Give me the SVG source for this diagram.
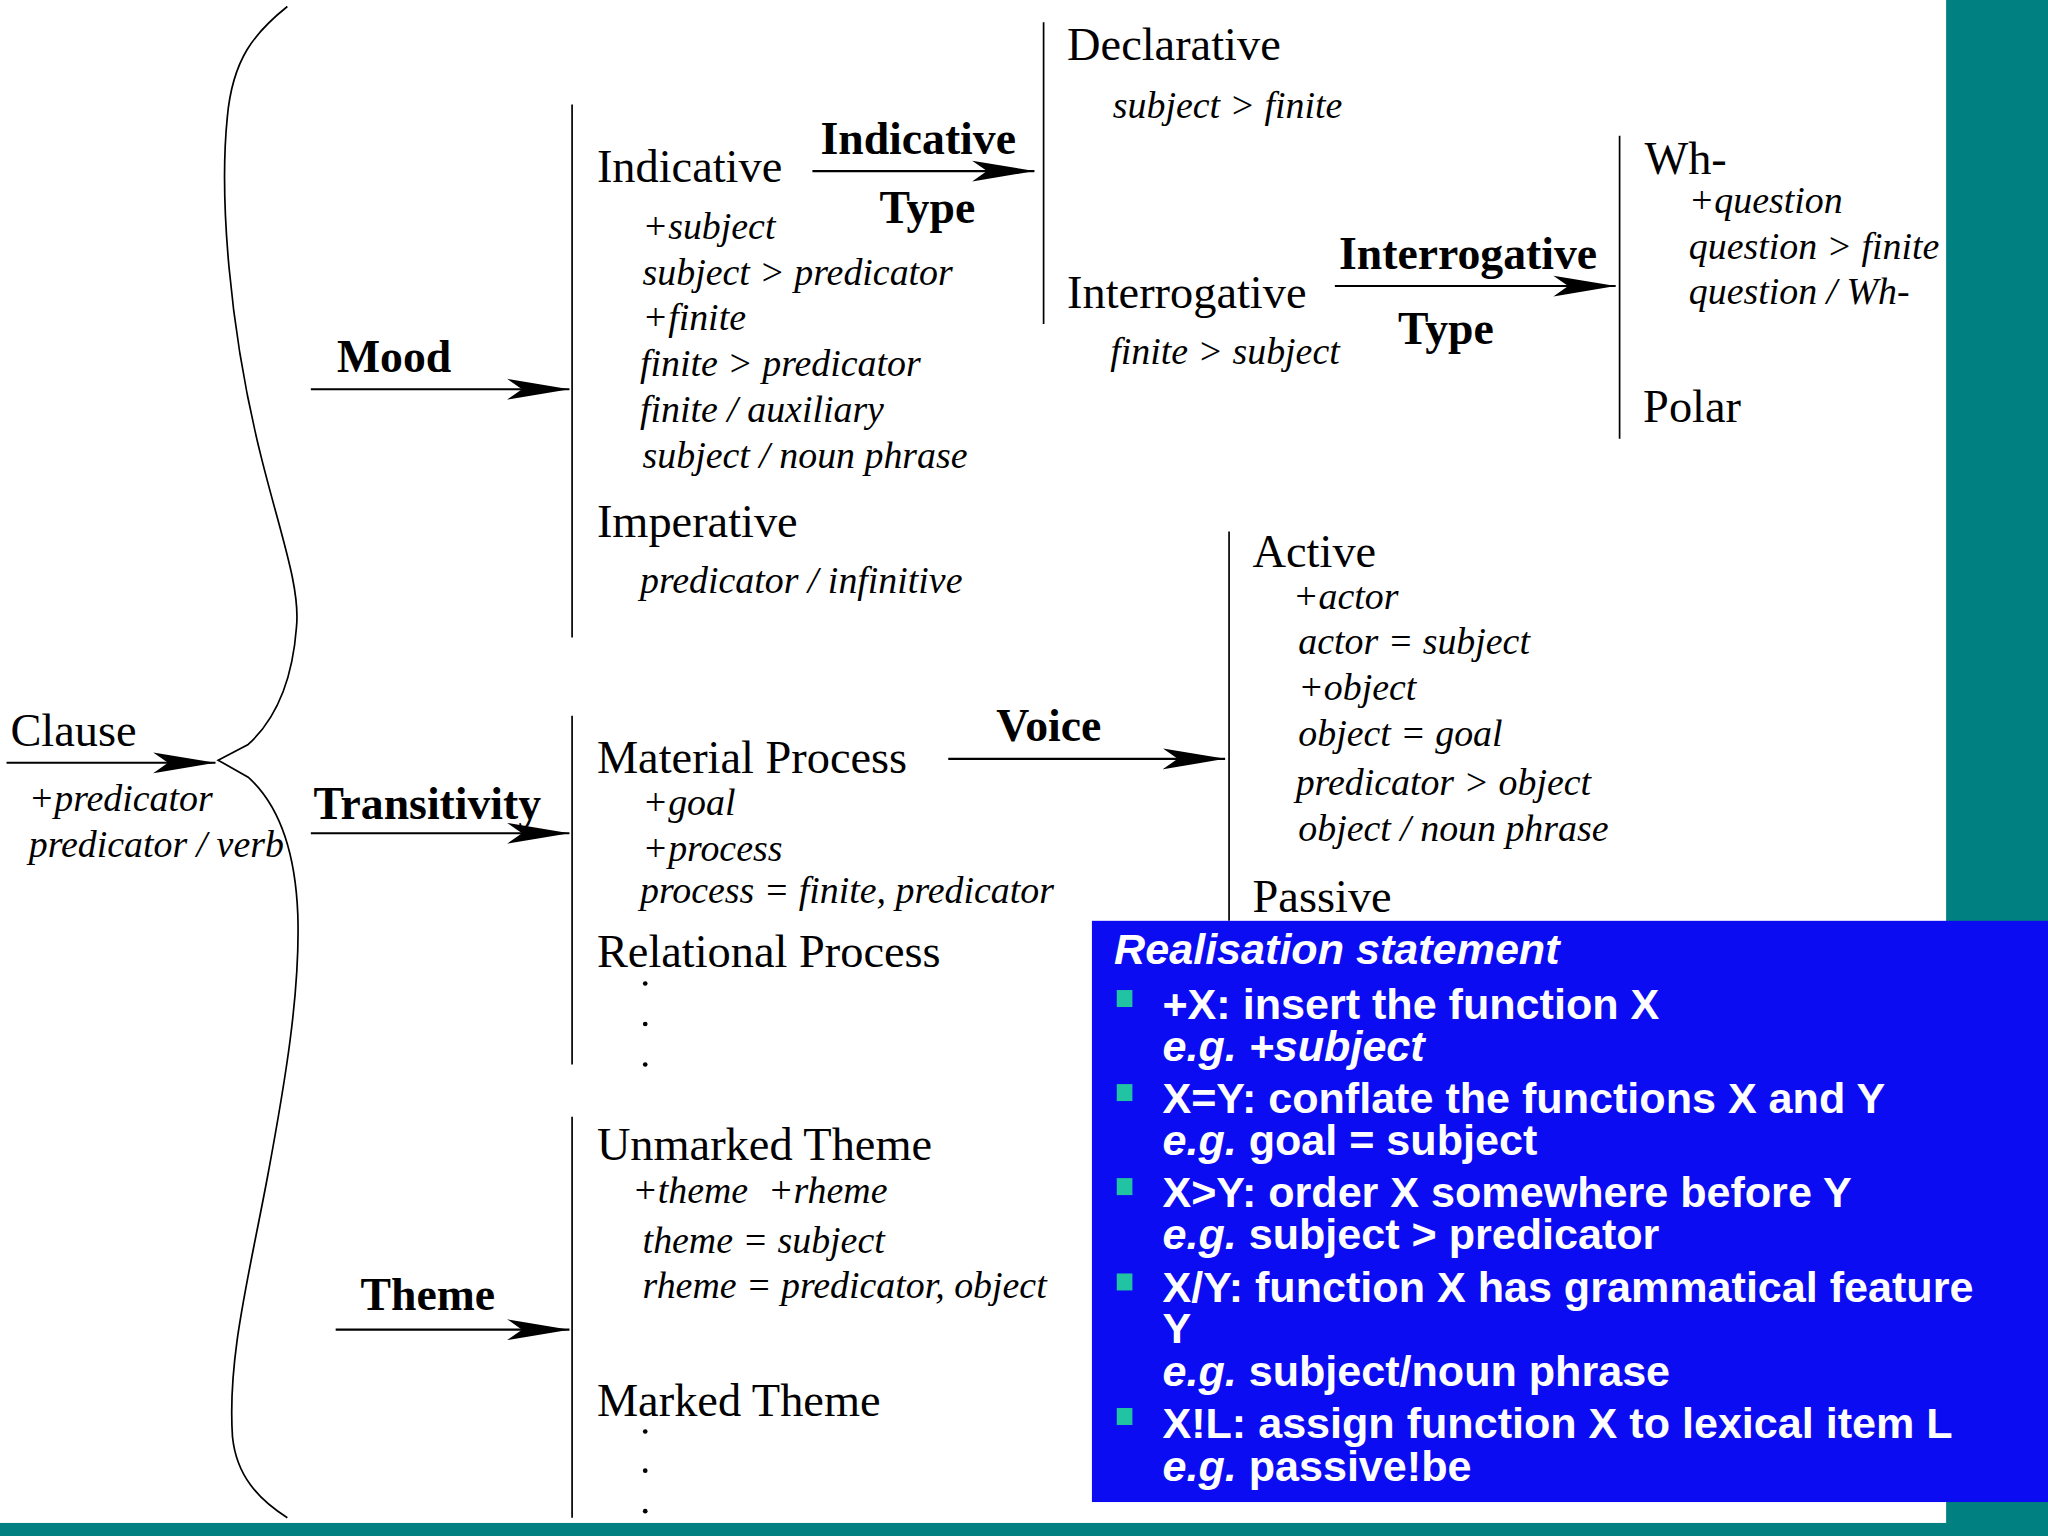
<svg xmlns="http://www.w3.org/2000/svg" width="2048" height="1536" viewBox="0 0 2048 1536">
<defs>
<marker id="ah" markerUnits="userSpaceOnUse" markerWidth="50" markerHeight="20" refX="42" refY="7" orient="auto" viewBox="0 0 44 14">
<path d="M0,0 L42,7 L0,14 L10,7 z" fill="#000"/>
</marker>
<style>
.r{font-family:"Liberation Serif","Times New Roman",serif;font-size:35.5px;fill:#000}
.i{font-family:"Liberation Serif","Times New Roman",serif;font-size:29px;font-style:italic;fill:#000}
.b{font-family:"Liberation Serif","Times New Roman",serif;font-size:35px;font-weight:bold;fill:#000}
.ln{stroke:#000;stroke-width:1.3;fill:none}
.ar{stroke:#000;stroke-width:1.6;fill:none;marker-end:url(#ah)}
.w{font-family:"Liberation Sans",Arial,sans-serif;font-size:33px;font-weight:bold;fill:#fff}
.bl{fill:#22C3A3}
</style>
</defs>
<rect x="0" y="0" width="2048" height="1536" fill="#fff"/>
<g transform="scale(1.306122)">
<rect x="1490" y="0" width="78" height="1176" fill="#008080"/>
<rect x="0" y="1166" width="1568" height="10" fill="#008080"/>

<g id="connectors">
<path class="ln" d="M220,5 C195,25 178,45 174,90 C168,150 175,250 200,350 C215,410 230,450 227,480 C224,520 212,550 190,570 L167,582 L190,595 C212,615 226,650 228,700 C230,760 218,830 205,900 C190,980 174,1040 178,1100 C181,1130 198,1148 220,1162"/>
<line class="ar" x1="5" y1="584" x2="165" y2="584"/>
<line class="ar" x1="238" y1="298" x2="436" y2="298"/>
<line class="ar" x1="238" y1="638" x2="436" y2="638"/>
<line class="ar" x1="257" y1="1018" x2="436" y2="1018"/>
<line class="ar" x1="622" y1="131" x2="792" y2="131"/>
<line class="ar" x1="1022" y1="219" x2="1237" y2="219"/>
<line class="ar" x1="726" y1="581" x2="938" y2="581"/>
<line class="ln" x1="438" y1="80" x2="438" y2="488"/>
<line class="ln" x1="438" y1="548" x2="438" y2="815"/>
<line class="ln" x1="438" y1="855" x2="438" y2="1162"/>
<line class="ln" x1="799" y1="17" x2="799" y2="248"/>
<line class="ln" x1="1240" y1="104" x2="1240" y2="336"/>
<line class="ln" x1="941" y1="407" x2="941" y2="705"/>
<text class="b" x="258" y="285">Mood</text>
<text class="b" x="240" y="627">Transitivity</text>
<text class="b" x="276" y="1003">Theme</text>
<text class="b" x="703" y="118" text-anchor="middle">Indicative</text>
<text class="b" x="710" y="171" text-anchor="middle">Type</text>
<text class="b" x="1124" y="206" text-anchor="middle">Interrogative</text>
<text class="b" x="1107" y="263" text-anchor="middle">Type</text>
<text class="b" x="803" y="567" text-anchor="middle">Voice</text>
</g>

<g id="clause">
<text class="r" x="8" y="571">Clause</text>
<text class="i" x="22" y="621">+predicator</text>
<text class="i" x="22" y="656">predicator / verb</text>
</g>
<g id="indicative">
<text class="r" x="457" y="139">Indicative</text>
<text class="i" x="492" y="183">+subject</text>
<text class="i" x="492" y="218">subject &gt; predicator</text>
<text class="i" x="492" y="253">+finite</text>
<text class="i" x="490" y="288">finite &gt; predicator</text>
<text class="i" x="490" y="323">finite / auxiliary</text>
<text class="i" x="492" y="358">subject / noun phrase</text>
</g>
<g id="imperative">
<text class="r" x="457" y="411">Imperative</text>
<text class="i" x="490" y="454">predicator / infinitive</text>
</g>
<g id="declarative">
<text class="r" x="817" y="46">Declarative</text>
<text class="i" x="852" y="90">subject &gt; finite</text>
</g>
<g id="interrogative">
<text class="r" x="817" y="236">Interrogative</text>
<text class="i" x="850" y="279">finite &gt; subject</text>
</g>
<g id="wh">
<text class="r" x="1259" y="133">Wh-</text>
<text class="i" x="1293" y="163">+question</text>
<text class="i" x="1293" y="198">question &gt; finite</text>
<text class="i" x="1293" y="233">question / Wh-</text>
</g>
<g id="polar">
<text class="r" x="1258" y="323">Polar</text>
</g>
<g id="material">
<text class="r" x="457" y="592">Material Process</text>
<text class="i" x="492" y="624">+goal</text>
<text class="i" x="492" y="659">+process</text>
<text class="i" x="490" y="691">process = finite, predicator</text>
</g>
<g id="relational">
<text class="r" x="457" y="740">Relational Process</text>
<circle cx="494" cy="753" r="1.8"/>
<circle cx="494" cy="784" r="1.8"/>
<circle cx="494" cy="815" r="1.8"/>
</g>
<g id="active">
<text class="r" x="959" y="434">Active</text>
<text class="i" x="990" y="466">+actor</text>
<text class="i" x="994" y="501">actor = subject</text>
<text class="i" x="994" y="536">+object</text>
<text class="i" x="994" y="571">object = goal</text>
<text class="i" x="992" y="609">predicator &gt; object</text>
<text class="i" x="994" y="644">object / noun phrase</text>
</g>
<g id="passive">
<text class="r" x="959" y="698">Passive</text>
</g>
<g id="unmarked">
<text class="r" x="457" y="888">Unmarked Theme</text>
<text class="i" x="484" y="921">+theme<tspan x="588">+rheme</tspan></text>
<text class="i" x="492" y="959">theme = subject</text>
<text class="i" x="492" y="994">rheme = predicator, object</text>
</g>
<g id="marked">
<text class="r" x="457" y="1084">Marked Theme</text>
<circle cx="494" cy="1096" r="1.8"/>
<circle cx="494" cy="1126" r="1.8"/>
<circle cx="494" cy="1157" r="1.8"/>
</g>

<g id="legend">
<rect x="836" y="705" width="732" height="445" fill="#0C0CF2"/>
<text class="w" x="853" y="738" font-style="italic">Realisation statement</text>
<rect class="bl" x="855" y="758" width="12" height="13"/>
<rect class="bl" x="855" y="830" width="12" height="13"/>
<rect class="bl" x="855" y="902" width="12" height="13"/>
<rect class="bl" x="855" y="975" width="12" height="13"/>
<rect class="bl" x="855" y="1078" width="12" height="13"/>
<text class="w" x="890" y="780">+X: insert the function X</text>
<text class="w" x="890" y="812" font-style="italic">e.g. +subject</text>
<text class="w" x="890" y="852">X=Y: conflate the functions X and Y</text>
<text class="w" x="890" y="884"><tspan font-style="italic">e.g.</tspan> goal = subject</text>
<text class="w" x="890" y="924">X&gt;Y: order X somewhere before Y</text>
<text class="w" x="890" y="956"><tspan font-style="italic">e.g.</tspan> subject &gt; predicator</text>
<text class="w" x="890" y="997">X/Y: function X has grammatical feature</text>
<text class="w" x="890" y="1028">Y</text>
<text class="w" x="890" y="1061"><tspan font-style="italic">e.g.</tspan> subject/noun phrase</text>
<text class="w" x="890" y="1101">X!L: assign function X to lexical item L</text>
<text class="w" x="890" y="1134"><tspan font-style="italic">e.g.</tspan> passive!be</text>
</g>
</g>
</svg>
